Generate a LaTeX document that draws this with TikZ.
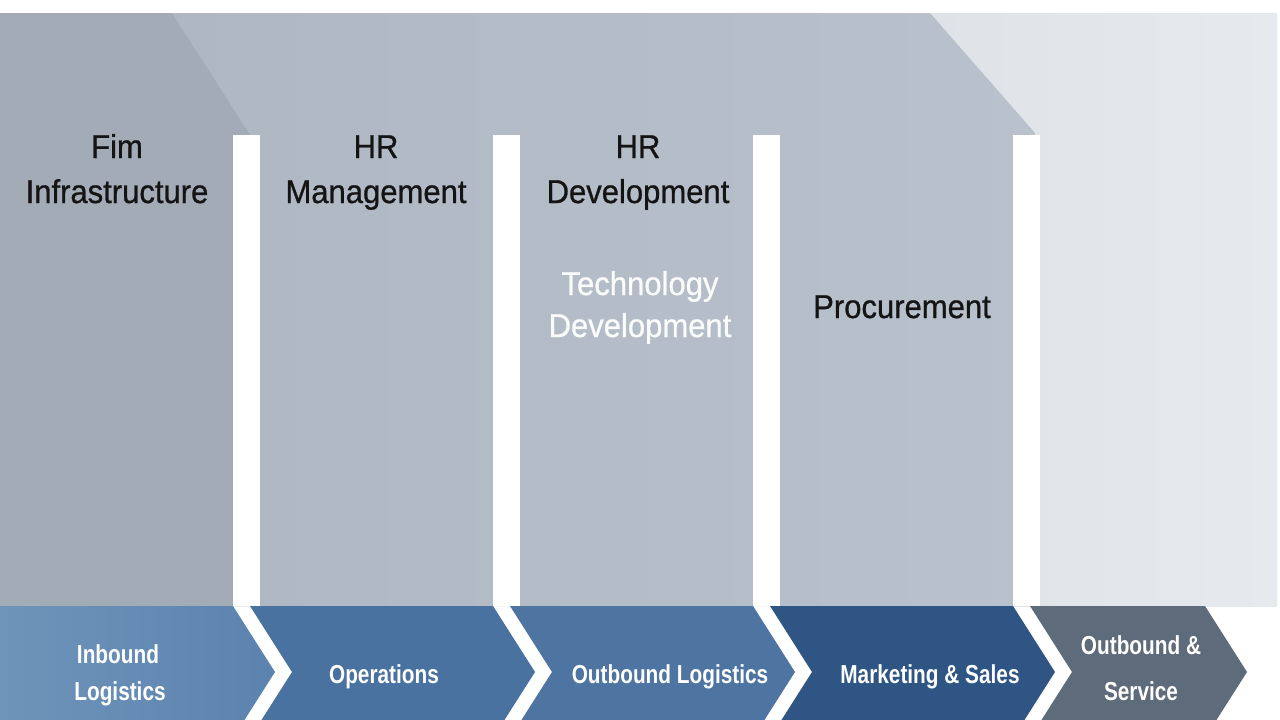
\documentclass[tikz,border=0pt]{standalone}
\usepackage{fontspec}
\setmainfont{Liberation Sans}
\newfontfamily\headfont[FakeStretch=0.94,FakeBold=0.8]{Liberation Sans}
\newfontfamily\chevfont[FakeStretch=0.8]{Liberation Sans}
\usetikzlibrary{calc}

\definecolor{bandleft}{HTML}{ACB5C0}
\definecolor{bandright}{HTML}{B9C2CC}
\definecolor{infracol}{HTML}{A2ABB6}
\definecolor{paleleft}{HTML}{DFE3E8}
\definecolor{paleright}{HTML}{E6E9ED}
\definecolor{chevA}{HTML}{6F94BA}
\definecolor{chevAr}{HTML}{5B83AE}
\definecolor{chevB}{HTML}{4A72A0}
\definecolor{chevC}{HTML}{4E74A2}
\definecolor{chevD}{HTML}{2F5585}
\definecolor{chevE}{HTML}{5D6B7B}

\tikzset{
	toplabel/.style={anchor=base, text=black!92, font=\headfont\fontsize{33}{38}\selectfont},
	techlabel/.style={toplabel, text=white!94!bandleft},
	chevlabel/.style={anchor=base, text=white, font=\chevfont\bfseries\fontsize{26}{30}\selectfont}
}

\begin{document}
\begin{tikzpicture}[x=1pt,y=-1pt]
	 \clip (0,0) rectangle (1280,720);
	 \fill[white] (0,0) rectangle (1280,720);

	 % support activities panel
	 \shade[left color=paleleft, right color=paleright] (930,13) rectangle (1277,606);
	 \shade[left color=bandleft, right color=bandright] (0,13) -- (930,13) -- (1035,133) -- (1035,606) -- (0,606) -- cycle;
	 \fill[infracol] (0,13) -- (172,13) -- (250,135) -- (250,606) -- (0,606) -- cycle;
	 \foreach \x in {233,493,753,1013}
		\fill[white] (\x,135) rectangle (\x+27,606);

	 % primary activities
	 \shade[left color=chevA, right color=chevAr] (0,606) -- (233,606) -- (275,672) -- (233,738) -- (0,738) -- cycle;
	 \foreach \xl/\xr/\c in {250/493/chevB,510/753/chevC,770/1013/chevD,1030/1205/chevE}
		\fill[\c] (\xl,606) -- (\xr,606) -- (\xr+42,672) -- (\xr,738) -- (\xl,738) -- (\xl+42,672) -- cycle;

	 \node[toplabel] (firm-a) at (117,158) {Fim};
	 \node[toplabel] (firm-b) at (117,203) {Infrastructure};
	 \node[toplabel] (hrm-a) at (376,158) {HR};
	 \node[toplabel] (hrm-b) at (376,203) {Management};
	 \node[toplabel] (hrd-a) at (638,158) {HR};
	 \node[toplabel] (hrd-b) at (638,203) {Development};
	 \node[techlabel] (tech-a) at (640,295) {Technology};
	 \node[techlabel] (tech-b) at (640,337) {Development};
	 \node[toplabel] (proc) at (902,318) {Procurement};

	 \node[chevlabel] (inbound-a) at (118,663) {Inbound};
	 \node[chevlabel] (inbound-b) at (120,700) {Logistics};
	 \node[chevlabel] (ops) at (384,683) {Operations};
	 \node[chevlabel] (outbound) at (670,683) {Outbound Logistics};
	 \node[chevlabel] (sales) at (930,683) {Marketing \& Sales};
	 \node[chevlabel] (service-a) at (1141,654) {Outbound \&};
	 \node[chevlabel] (service-b) at (1141,700) {Service};
\end{tikzpicture}
\end{document}
